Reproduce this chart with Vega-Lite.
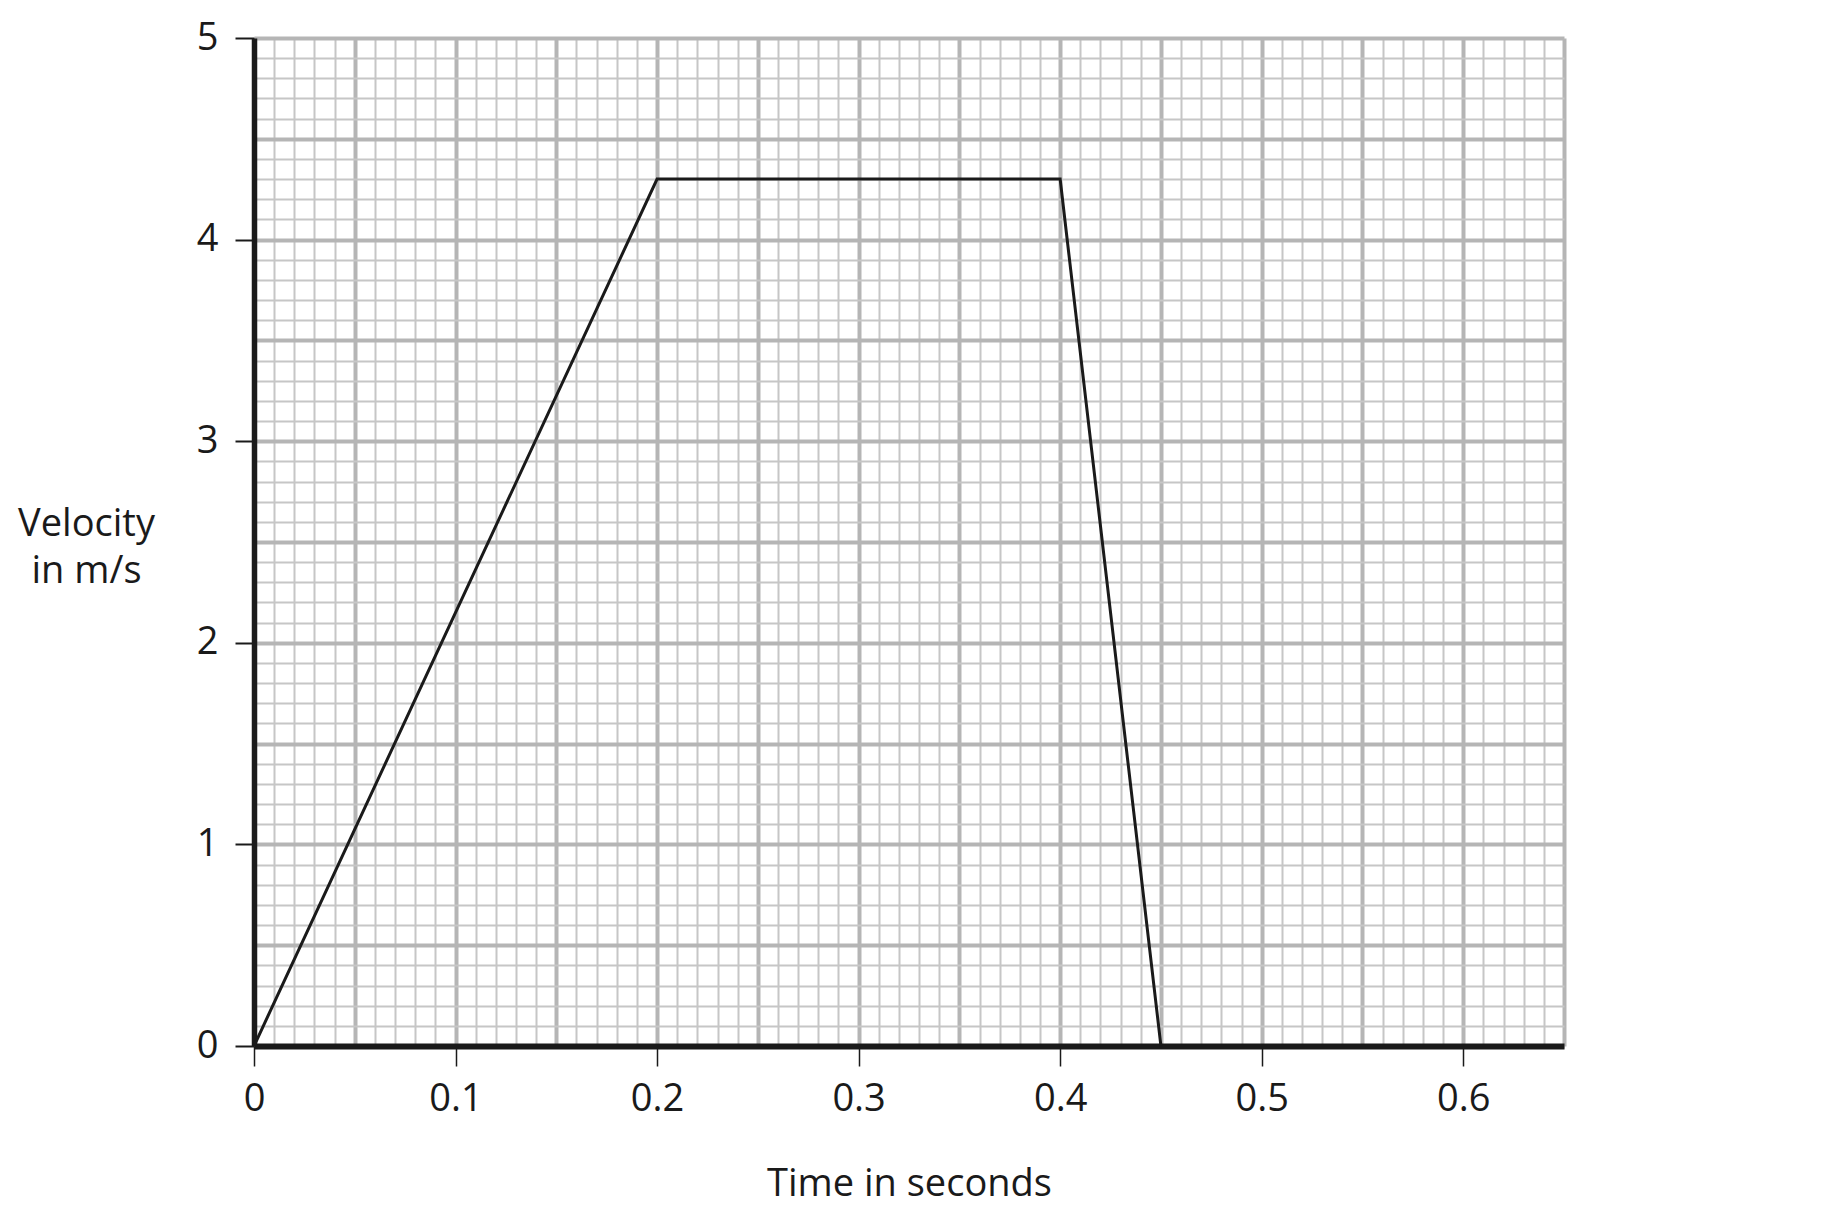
{
  "$schema": "https://vega.github.io/schema/vega-lite/v6.json",
  "width": 1310,
  "height": 1008,
  "autosize": {"type": "none"},
  "padding": {"left": 254, "top": 38, "right": 262, "bottom": 184},
  "background": "white",
  "config": {"view": {"stroke": null}, "font": "Open Sans"},
  "data": {"values": [
    {"t": 0, "v": 0},
    {"t": 0.2, "v": 4.3},
    {"t": 0.4, "v": 4.3},
    {"t": 0.45, "v": 0}
  ]},
  "mark": {"type": "line", "color": "#1a1a1a", "strokeWidth": 3},
  "encoding": {
    "x": {
      "field": "t",
      "type": "quantitative",
      "scale": {"domain": [0, 0.65], "nice": false, "zero": false},
      "axis": {
        "values": [0,0.01,0.02,0.03,0.04,0.05,0.06,0.07,0.08,0.09,0.1,0.11,0.12,0.13,0.14,0.15,0.16,0.17,0.18,0.19,0.2,0.21,0.22,0.23,0.24,0.25,0.26,0.27,0.28,0.29,0.3,0.31,0.32,0.33,0.34,0.35,0.36,0.37,0.38,0.39,0.4,0.41,0.42,0.43,0.44,0.45,0.46,0.47,0.48,0.49,0.5,0.51,0.52,0.53,0.54,0.55,0.56,0.57,0.58,0.59,0.6,0.61,0.62,0.63,0.64,0.65],
        "grid": true,
        "gridOpacity": 1,
        "gridColor": {"condition": {"test": "abs(round(datum.value*100)%5)==0", "value": "#b5b5b5"}, "value": "#c6c6c6"},
        "gridWidth": {"condition": {"test": "abs(round(datum.value*100)%5)==0", "value": 4}, "value": 2},
        "domainColor": "#1a1a1a",
        "domainWidth": 6,
        "ticks": true,
        "tickSize": 20,
        "tickWidth": 1.5,
        "tickColor": "#1a1a1a",
        "tickOpacity": {"condition": {"test": "abs(round(datum.value*100)%10)==0", "value": 1}, "value": 0},
        "labelExpr": "abs(round(datum.value*100)%10)==0 ? format(datum.value, '.1~f') : ''",
        "labelFont": "Open Sans",
        "labelFontSize": 38,
        "labelColor": "#1a1a1a",
        "labelPadding": 44,
        "labelBaseline": "alphabetic",
        "labelFlush": false,
        "labelOverlap": false,
        "labelBound": false,
        "title": "Time in seconds",
        "titleFont": "Open Sans",
        "titleFontSize": 38,
        "titleFontWeight": "normal",
        "titleColor": "#1a1a1a",
        "titleX": 655,
        "titleY": 149,
        "titleAlign": "center",
        "titleBaseline": "alphabetic"
      }
    },
    "y": {
      "field": "v",
      "type": "quantitative",
      "scale": {"domain": [0, 5], "nice": false, "zero": false},
      "axis": {
        "values": [0,0.1,0.2,0.3,0.4,0.5,0.6,0.7,0.8,0.9,1,1.1,1.2,1.3,1.4,1.5,1.6,1.7,1.8,1.9,2,2.1,2.2,2.3,2.4,2.5,2.6,2.7,2.8,2.9,3,3.1,3.2,3.3,3.4,3.5,3.6,3.7,3.8,3.9,4,4.1,4.2,4.3,4.4,4.5,4.6,4.7,4.8,4.9,5],
        "grid": true,
        "gridOpacity": 1,
        "gridColor": {"condition": {"test": "abs(round(datum.value*10)%5)==0", "value": "#b5b5b5"}, "value": "#c6c6c6"},
        "gridWidth": {"condition": {"test": "abs(round(datum.value*10)%5)==0", "value": 4}, "value": 2},
        "domainColor": "#1a1a1a",
        "domainWidth": 5.5,
        "ticks": true,
        "tickSize": 19,
        "tickWidth": 2,
        "tickColor": "#1a1a1a",
        "tickOpacity": {"condition": {"test": "abs(round(datum.value*10)%10)==0", "value": 1}, "value": 0},
        "labelExpr": "abs(round(datum.value*10)%10)==0 ? format(datum.value, 'd') : ''",
        "labelFont": "Open Sans",
        "labelFontSize": 38,
        "labelColor": "#1a1a1a",
        "labelPadding": 17,
        "labelBaseline": "middle",
        "labelFlush": false,
        "labelOverlap": false,
        "labelBound": false,
        "title": ["Velocity", "in m/s"],
        "titleFont": "Open Sans",
        "titleFontSize": 38,
        "titleFontWeight": "normal",
        "titleColor": "#1a1a1a",
        "titleAngle": 0,
        "titleAlign": "center",
        "titleBaseline": "alphabetic",
        "titleX": -168,
        "titleY": 497,
        "titleLineHeight": 47
      }
    }
  }
}
